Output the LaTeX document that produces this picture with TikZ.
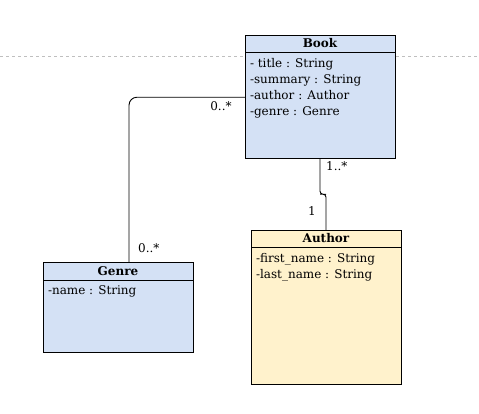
\documentclass[tikz,border=0pt]{standalone}
\usepackage{fontspec}
\setmainfont{DejaVu Serif}
\usepackage{xcolor}
\usetikzlibrary{positioning,calc}

\definecolor{classblue}{HTML}{D4E1F5}
\definecolor{classyellow}{HTML}{FFF2CC}

\begin{document}
\begin{tikzpicture}[
    x=1pt, y=-1pt,
    font=\fontsize{12}{16}\selectfont,
    head/.style={draw, minimum width=150pt, inner sep=0pt, font=\fontsize{12}{16}\selectfont\bfseries},
    body/.style={draw, minimum width=150pt, inner sep=0pt, below=0pt of #1},
    attrs/.style={anchor=north west, align=left, inner sep=0pt},
    mult/.style={inner sep=0pt, font=\fontsize{12}{16}\selectfont},
    assoc/.style={draw, line width=0.9pt},
]
\useasboundingbox (0,0) rectangle (479,413);

% Page break guide
\draw[black!25, dashed, dash pattern=on 3pt off 3pt] (0,56) -- (479,56);

% Book class
\node[head, fill=classblue, minimum height=17pt] (bookh) at (320,43.5) {Book};
\node[body=bookh, fill=classblue, minimum height=106pt] (book) {};
\node[attrs] (bookattr) at ([xshift=5pt,yshift=-6pt]book.north west)
    {- title : String\\-summary : String\\-author : Author\\-genre : Genre};

% Genre class
\node[head, fill=classblue, minimum height=18pt] (genreh) at (118,271) {Genre};
\node[body=genreh, fill=classblue, minimum height=72pt] (genre) {};
\node[attrs] (genreattr) at ([xshift=5pt,yshift=-5pt]genre.north west) {-name : String};

% Author class
\node[head, fill=classyellow, minimum height=17pt] (authorh) at (326,238.5) {Author};
\node[body=authorh, fill=classyellow, minimum height=137pt] (author) {};
\node[attrs] (authorattr) at ([xshift=5pt,yshift=-6pt]author.north west)
    {-first\_name : String\\-last\_name : String};

% Associations
\draw[assoc, rounded corners=8pt] ([yshift=-45pt]book.north west) -| ([xshift=11pt]genreh.north);
\draw[assoc, rounded corners=3pt] (book.south) |- ($(book.south)!0.5!(authorh.north)$) -| (authorh.north);

% Multiplicities
\node[mult, anchor=north east] (m1) at ([xshift=-13pt,yshift=-49pt]book.north west) {0..*};
\node[mult, anchor=south west] (m2) at ([xshift=20pt,yshift=9pt]genreh.north) {0..*};
\node[mult, anchor=north west] (m3) at ([xshift=6pt,yshift=-3pt]book.south) {1..*};
\node[mult, anchor=south east] (m4) at ([xshift=-10pt,yshift=14pt]authorh.north) {1};

\end{tikzpicture}
\end{document}
